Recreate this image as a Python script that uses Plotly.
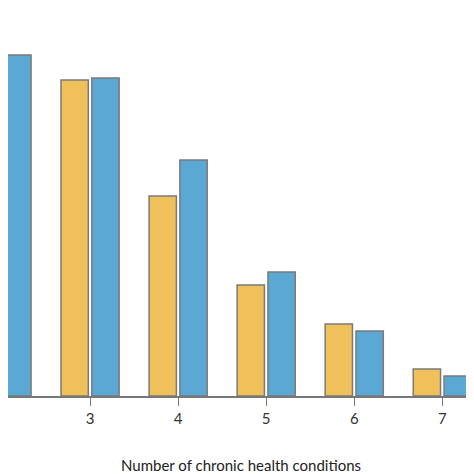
import plotly.graph_objects as go

conditions = [2, 3, 4, 5, 6, 7]
group_a = [430, 316, 200, 111, 72, 27]
group_b = [341, 318, 236, 124, 65, 20]

fig = go.Figure()
fig.add_trace(go.Bar(x=conditions, y=group_a, width=0.31, offset=-0.33,
                     marker=dict(color="#F0C05A", line=dict(color="#7a7a7a", width=1.5))))
fig.add_trace(go.Bar(x=conditions, y=group_b, width=0.31, offset=0.02,
                     marker=dict(color="#5BA8D4", line=dict(color="#7a7a7a", width=1.5))))

# page body has an 8px margin, so the figure is drawn 8px in from the top-left
fig.update_layout(
    width=466, height=466,
    margin=dict(l=0, r=0, t=0, b=78),
    plot_bgcolor="white", paper_bgcolor="white",
    showlegend=False, barmode="overlay",
    font=dict(family="Lato", size=14, color="#333"),
    xaxis=dict(range=[2.068, 7.36], tickvals=conditions, showline=True, linecolor="#777",
               linewidth=1.5, ticks="outside", ticklen=8, tickcolor="#777", showgrid=False,
               zeroline=False, tickfont=dict(size=15)),
    yaxis=dict(range=[0, 388], visible=False),
    annotations=[dict(text="Number of chronic health conditions", x=0.5, y=457,
                      xref="paper", yref="paper", yanchor="middle", showarrow=False,
                      font=dict(size=15, color="#222"))],
)
# annotation y given in pixels above; convert to paper coords of plot area
fig.layout.annotations[0].y = -(457 - 388) / 388
fig.write_html("out.html")
